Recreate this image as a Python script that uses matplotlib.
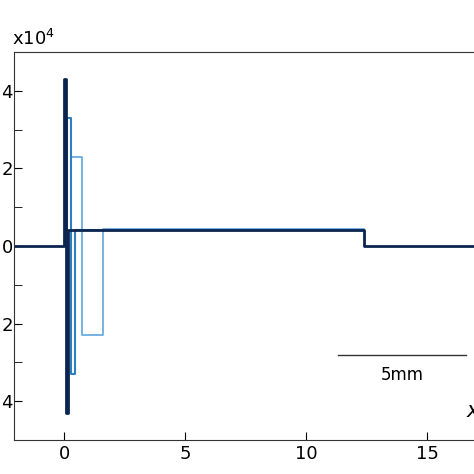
import matplotlib.pyplot as plt

# step profiles (x edges, y values in units of 1e4)
x_dark = [-3, 0.0, 0.0, 0.08, 0.08, 0.15, 0.15, 12.4, 12.4, 20]
y_dark = [0, 0, 4.3, 4.3, -4.3, -4.3, 0.4, 0.4, 0, 0]
x_mid = [0.1, 0.1, 0.28, 0.28, 0.45, 0.45, 12.4]
y_mid = [0.4, 3.3, 3.3, -3.3, -3.3, 0.4, 0.4]
x_light = [0.28, 0.28, 0.75, 0.75, 1.6, 1.6, 12.4, 12.4]
y_light = [0.4, 2.3, 2.3, -2.3, -2.3, 0.45, 0.45, 0.4]

fig = plt.figure(figsize=(4.74, 4.74), dpi=100)
ax = fig.add_axes([0.03, 0.072, 1.05, 0.818])
ax.plot(x_light, y_light, color="#6aaee0", lw=1.3)
ax.plot(x_mid, y_mid, color="#2f7fc0", lw=1.5)
ax.plot(x_dark, y_dark, color="#0b2550", lw=2.0)

ax.plot([11.3, 16.6], [-2.8, -2.8], color="#333333", lw=1.0)
ax.text(13.95, -3.1, "5mm", ha="center", va="top", fontsize=12)

ax.set_xlim(-2.07, 18.5)
ax.set_ylim(-5, 5)
ax.set_xticks([0, 5, 10, 15])
ax.set_yticks([-4, -2, 0, 2, 4])
ax.set_yticklabels(["4", "2", "0", "2", "4"])
ax.set_yticks([-3, -1, 1, 3], minor=True)
ax.tick_params(direction="in", labelsize=13, length=6)
ax.tick_params(which="minor", direction="in", length=6)
ax.yaxis.set_tick_params(pad=1)
for s in ax.spines.values():
    s.set_color("#333333")
fig.text(0.025, 0.905, r"x10$^4$", fontsize=13)
fig.text(0.985, 0.12, "x", fontsize=15, style="italic")

fig.savefig("out.png", dpi=100)
